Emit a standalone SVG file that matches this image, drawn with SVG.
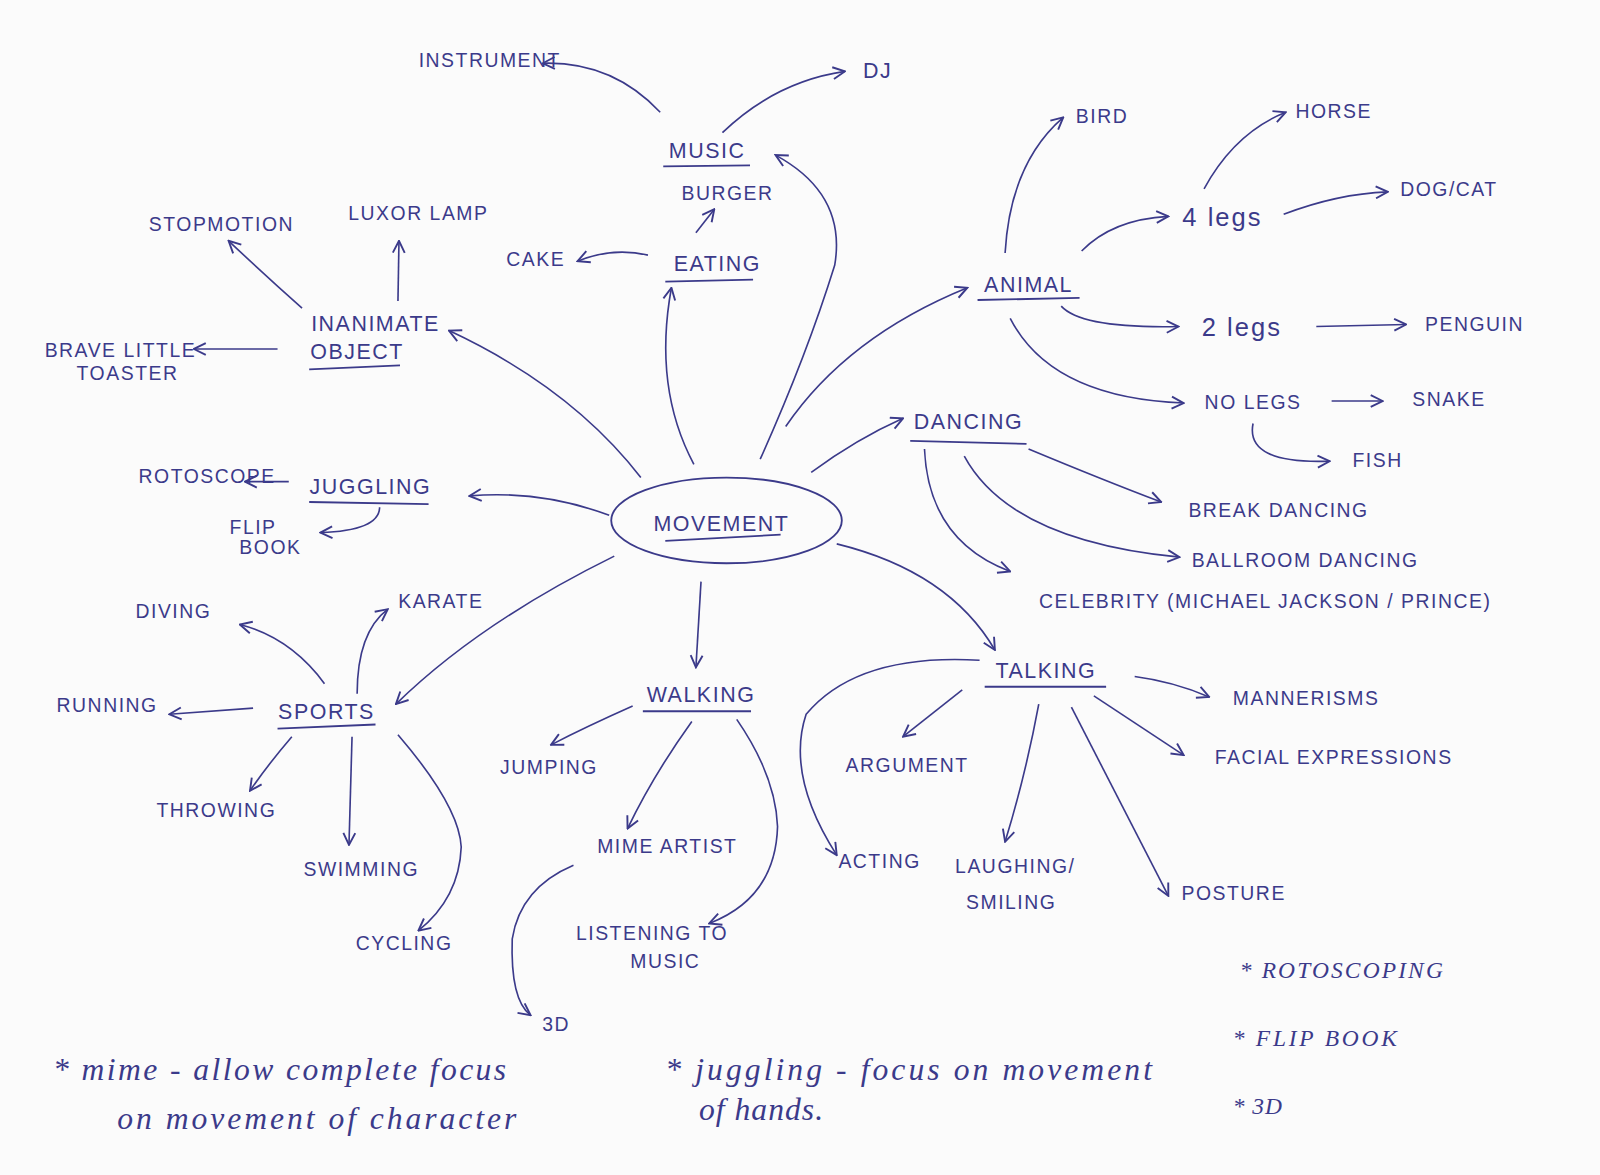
<svg xmlns="http://www.w3.org/2000/svg" width="1600" height="1175" viewBox="0 0 1600 1175">
<defs>
<marker id="a" viewBox="0 0 12 12" refX="11" refY="6" markerWidth="14" markerHeight="14" markerUnits="userSpaceOnUse" orient="auto"><path d="M1,1 L11,6 L1,11" fill="none" stroke="#3b3a8a" stroke-width="1.6"/></marker>
<style>
text{font-family:"Liberation Sans",Arial,sans-serif;fill:#3b3a8a;font-size:19px;letter-spacing:1.5px;text-anchor:middle}
.n text{font-size:21px}
.h{font-family:"Liberation Serif",serif;font-style:italic;font-size:31px;letter-spacing:1px;text-anchor:start}
.u{stroke:#3b3a8a;stroke-width:1.8;fill:none}
#c path{fill:none;stroke:#3b3a8a;stroke-width:1.6;marker-end:url(#a)}
</style>
</defs>
<rect width="1600" height="1175" fill="#fbfbfb"/>
<g transform="scale(1.0204)">
<g id="c">
<path d="M680,455 Q640,380 658,282"/>
<path d="M745,450 Q790,350 818,260 Q830,190 760,152"/>
<path d="M628,468 Q560,380 440,324"/>
<path d="M597,505 Q530,480 460,486"/>
<path d="M602,545 Q470,610 388,690"/>
<path d="M687,570 L682,654"/>
<path d="M820,533 Q930,560 975,637"/>
<path d="M795,463 Q840,430 885,410"/>
<path d="M770,418 Q830,330 948,282"/>
<path d="M708,130 Q760,80 828,70"/>
<path d="M647,110 Q600,60 532,62"/>
<path d="M682,228 L700,205"/>
<path d="M635,250 Q600,242 566,256"/>
<path d="M296,302 Q260,270 224,236"/>
<path d="M390,295 L391,236"/>
<path d="M272,342 L190,342"/>
<path d="M283,472 L240,472"/>
<path d="M372,497 Q372,520 314,522"/>
<path d="M318,670 Q285,625 235,612"/>
<path d="M350,680 Q350,620 380,597"/>
<path d="M248,694 L166,700"/>
<path d="M286,722 Q262,750 245,775"/>
<path d="M345,722 L342,828"/>
<path d="M390,720 Q450,790 452,830 Q450,880 410,912"/>
<path d="M620,692 Q575,712 540,730"/>
<path d="M678,707 Q640,760 615,812"/>
<path d="M722,705 Q760,760 762,810 Q760,880 695,905"/>
<path d="M562,848 Q510,870 502,920 Q500,980 520,995"/>
<path d="M1112,663 Q1150,668 1185,683"/>
<path d="M1072,682 Q1130,720 1160,740"/>
<path d="M943,676 L885,722"/>
<path d="M960,647 Q840,640 790,700 Q770,760 820,838"/>
<path d="M1018,690 Q1005,760 985,825"/>
<path d="M1050,693 Q1100,790 1145,878"/>
<path d="M1008,440 Q1080,470 1138,492"/>
<path d="M945,447 Q990,530 1156,546"/>
<path d="M906,440 Q910,530 990,560"/>
<path d="M985,248 Q990,160 1042,115"/>
<path d="M1060,246 Q1090,215 1145,212"/>
<path d="M1180,185 Q1210,130 1260,110"/>
<path d="M1258,210 Q1310,190 1360,188"/>
<path d="M1040,300 Q1060,322 1155,320"/>
<path d="M990,312 Q1030,390 1160,395"/>
<path d="M1290,320 L1378,318"/>
<path d="M1305,393 L1355,393"/>
<path d="M1228,415 Q1220,455 1303,452"/>
</g>
<g id="movement" class="n"><ellipse cx="712" cy="510" rx="113" ry="42" fill="none" stroke="#3b3a8a" stroke-width="1.8"/><text x="707" y="520">MOVEMENT</text><path class="u" d="M652,530 L765,524"/></g>
<g id="music" class="n"><text x="693" y="155">MUSIC</text><path class="u" d="M650,163 L735,162"/></g>
<g id="instrument"><text x="480" y="66">INSTRUMENT</text></g>
<g id="dj" class="n"><text x="860" y="76">DJ</text></g>
<g id="burger"><text x="713" y="196">BURGER</text></g>
<g id="eating" class="n"><text x="703" y="266">EATING</text><path class="u" d="M652,276 L738,274"/></g>
<g id="cake"><text x="525" y="261">CAKE</text></g>
<g id="inanimate" class="n"><text x="368" y="324">INANIMATE</text><text x="350" y="352">OBJECT</text><path class="u" d="M303,362 L392,358"/></g>
<g id="stopmotion"><text x="217" y="226">STOPMOTION</text></g>
<g id="luxor"><text x="410" y="216">LUXOR LAMP</text></g>
<g id="toaster"><text x="118" y="350">BRAVE LITTLE</text><text x="125" y="372">TOASTER</text></g>
<g id="juggling" class="n"><text x="363" y="484">JUGGLING</text><path class="u" d="M303,492 L420,494"/></g>
<g id="rotoscope"><text x="203" y="473">ROTOSCOPE</text></g>
<g id="flipbook"><text x="248" y="523">FLIP</text><text x="265" y="543">BOOK</text></g>
<g id="sports" class="n"><text x="320" y="705">SPORTS</text><path class="u" d="M272,714 L368,710"/></g>
<g id="diving"><text x="170" y="606">DIVING</text></g>
<g id="karate"><text x="432" y="596">KARATE</text></g>
<g id="running"><text x="105" y="698">RUNNING</text></g>
<g id="throwing"><text x="212" y="801">THROWING</text></g>
<g id="swimming"><text x="354" y="858">SWIMMING</text></g>
<g id="cycling"><text x="396" y="931">CYCLING</text></g>
<g id="walking" class="n"><text x="687" y="688">WALKING</text><path class="u" d="M630,697 L736,697"/></g>
<g id="jumping"><text x="538" y="759">JUMPING</text></g>
<g id="mime"><text x="654" y="836">MIME ARTIST</text></g>
<g id="listening"><text x="639" y="921">LISTENING TO</text><text x="652" y="949">MUSIC</text></g>
<g id="threed"><text x="545" y="1010">3D</text></g>
<g id="talking" class="n"><text x="1025" y="664">TALKING</text><path class="u" d="M965,673 L1084,673"/></g>
<g id="mannerisms"><text x="1280" y="691">MANNERISMS</text></g>
<g id="facial"><text x="1307" y="749">FACIAL  EXPRESSIONS</text></g>
<g id="argument"><text x="889" y="757">ARGUMENT</text></g>
<g id="acting"><text x="862" y="851">ACTING</text></g>
<g id="laughing"><text x="995" y="856">LAUGHING/</text><text x="991" y="891">SMILING</text></g>
<g id="posture"><text x="1209" y="882">POSTURE</text></g>
<g id="dancing" class="n"><text x="949" y="420">DANCING</text><path class="u" d="M892,432 L1006,435"/></g>
<g id="break"><text x="1253" y="507">BREAK DANCING</text></g>
<g id="ballroom"><text x="1279" y="556">BALLROOM DANCING</text></g>
<g id="celebrity"><text x="1240" y="596">CELEBRITY (MICHAEL JACKSON / PRINCE)</text></g>
<g id="animal" class="n"><text x="1008" y="286">ANIMAL</text><path class="u" d="M958,294 L1058,292"/></g>
<g id="bird"><text x="1080" y="121">BIRD</text></g>
<g id="fourlegs"><text x="1198" y="221" style="font-size:25px;letter-spacing:2px">4 legs</text></g>
<g id="horse"><text x="1307" y="116">HORSE</text></g>
<g id="dogcat"><text x="1420" y="192">DOG/CAT</text></g>
<g id="twolegs"><text x="1217" y="329" style="font-size:25px;letter-spacing:2px">2 legs</text></g>
<g id="penguin"><text x="1445" y="324">PENGUIN</text></g>
<g id="nolegs"><text x="1228" y="401">NO LEGS</text></g>
<g id="snake"><text x="1420" y="398">SNAKE</text></g>
<g id="fish"><text x="1350" y="458">FISH</text></g>
<g id="notes">
<text class="h" x="52" y="1058" textLength="445">* mime - allow complete focus</text>
<text class="h" x="115" y="1106" textLength="392">on movement of character</text>
<text class="h" x="652" y="1058" textLength="478">* juggling - focus on movement</text>
<text class="h" x="685" y="1098">of hands.</text>
<text class="h" x="1215" y="958" style="font-size:23px" textLength="200">* ROTOSCOPING</text>
<text class="h" x="1208" y="1025" style="font-size:23px" textLength="162">* FLIP BOOK</text>
<text class="h" x="1208" y="1092" style="font-size:23px">* 3D</text>
</g>
</g>
</svg>
